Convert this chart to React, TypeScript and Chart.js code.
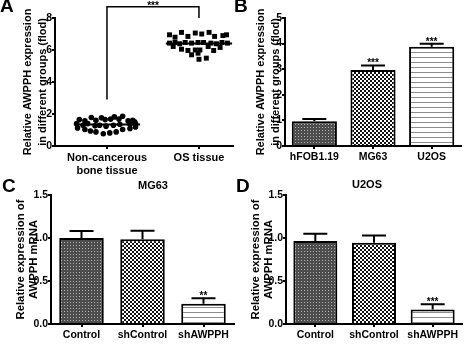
import React, { useEffect, useRef } from "react";
import { Chart, registerables } from "chart.js";
Chart.register(...registerables);

const FONT = "'Liberation Sans', Arial, Helvetica, sans-serif";

// ---------- Panel A data ----------
const aCategories: (string | string[])[] = [["Non-cancerous", "bone tissue"], "OS tissue"];
const aNormalJitter = [-0.3, -0.24, -0.17, -0.12, -0.06, -0.02, 0.04, 0.08, 0.13, 0.17, 0.23, 0.28, 0.31,
  -0.33, -0.26, -0.21, -0.13, -0.08, -0.01, 0.07, 0.14, 0.25, 0.3,
  -0.32, -0.24, -0.18, -0.12, -0.04, 0.03, 0.1, 0.17, 0.25, 0.31];
const aNormalValues = [1.65, 1.57, 1.78, 1.61, 1.76, 1.65, 1.68, 1.82, 1.68, 1.86, 1.57, 1.61, 1.4,
  1.4, 1.3, 1.4, 1.26, 1.3, 1.24, 1.3, 1.36, 1.36, 1.51,
  1.13, 1.03, 0.94, 0.88, 0.77, 0.82, 0.88, 1.03, 1.09, 1.19];
const aOSJitter = [-0.32, -0.26, -0.19, -0.12, -0.04, 0.03, 0.11, 0.17, 0.26, 0.3,
  -0.32, -0.26, -0.21, -0.15, -0.08, -0.01, 0.05, 0.13, 0.19, 0.25, 0.31,
  -0.28, -0.19, -0.12, -0.04, 0.01, 0.1, 0.16, 0.23, -0.08, -0.01, 0.0, 0.08];
const aOSValues = [6.95, 6.8, 7.1, 6.85, 7.06, 7.0, 7.1, 6.85, 6.9, 6.95,
  6.43, 6.47, 6.39, 6.47, 6.43, 6.47, 6.47, 6.43, 6.39, 6.47, 6.43,
  6.22, 6.05, 5.97, 6.0, 6.0, 6.22, 5.97, 6.16, 5.7, 5.8, 5.42, 5.49];
const aMeans = [1.34, 6.4];
const aYTicks = [0, 2, 4, 6, 8];
const aBracket = { leftFrom: 2.9, rightFrom: 8.0, top: 8.7, label: "***" };
const MEAN_HALF = 0.36;

// ---------- Panel B data ----------
const bCategories = ["hFOB1.19", "MG63", "U2OS"];
const bMeans = [0.97, 2.97, 3.88];
const bErrors = [0.08, 0.17, 0.11];
const bStars = ["", "***", "***"];
const bYTicks = [0, 1, 2, 3, 4, 5];

// ---------- Panel C / D data ----------
const cdCategories = ["Control", "shControl", "shAWPPH"];
const cMeans = [1.0, 0.985, 0.235];
const cErrors = [0.08, 0.1, 0.065];
const cStars = ["", "", "**"];
const dMeans = [0.965, 0.945, 0.17];
const dErrors = [0.085, 0.085, 0.06];
const dStars = ["", "", "***"];
const cdYTicks = [0, 0.5, 1.0, 1.5];

const titleAB = ["Relative AWPPH expression", "in different groups (flod)"];
const titleCD = ["Relative expression of", "AWPPH mRNA"];

function makePattern(kind: number): CanvasPattern {
  const c = document.createElement("canvas");
  const g = c.getContext("2d")!;
  if (kind === 0) {
    c.width = 3; c.height = 3;
    g.fillStyle = "#4d4d4d"; g.fillRect(0, 0, 3, 3);
    g.fillStyle = "#b0b0b0"; g.fillRect(1, 1, 1, 1);
  } else if (kind === 1) {
    c.width = 4; c.height = 4;
    g.fillStyle = "#fff"; g.fillRect(0, 0, 4, 4);
    g.fillStyle = "#111"; g.fillRect(0, 0, 2, 2); g.fillRect(2, 2, 2, 2);
  } else {
    c.width = 5; c.height = 5;
    g.fillStyle = "#fff"; g.fillRect(0, 0, 5, 5);
    g.fillStyle = "#8c8c8c"; g.fillRect(0, 2, 5, 1);
  }
  return g.createPattern(c, "repeat")!;
}

type Area = { l: number; r: number; t: number; b: number };

function axisBase(w: number, h: number, area: Area) {
  return {
    layout: { padding: { left: 0, top: area.t, right: w - area.r, bottom: 0 } },
    yFit: (s: any) => { s.width = area.l; },
    xFit: (s: any) => { s.height = h - area.b; },
  };
}

const tickGrid = { display: true, drawOnChartArea: false, drawTicks: true, tickLength: 3, color: "#000", lineWidth: 2, offset: false };
const border = { display: true, color: "#000", width: 2 };

function decorPlugin(opts: {
  letter: string; letterX: number; letterY: number;
  sub?: string; subX?: number; subY?: number;
  means?: number[]; errors?: number[]; stars?: string[]; starSize?: number;
  bracket?: boolean;
}) {
  return {
    id: "decor",
    afterDraw(chart: any) {
      const ctx = chart.ctx as CanvasRenderingContext2D;
      const x = chart.scales.x, y = chart.scales.y;
      ctx.save();
      ctx.fillStyle = "#000";
      ctx.strokeStyle = "#000";
      ctx.textAlign = "left";
      ctx.textBaseline = "alphabetic";
      ctx.font = `bold 19px ${FONT}`;
      ctx.fillText(opts.letter, opts.letterX, opts.letterY);
      if (opts.sub) {
        ctx.font = `bold 11px ${FONT}`;
        ctx.textAlign = "center";
        ctx.fillText(opts.sub, opts.subX!, opts.subY!);
      }
      if (opts.means && opts.errors) {
        ctx.lineWidth = 2;
        opts.means.forEach((m, i) => {
          const px = x.getPixelForValue(i);
          const yb = y.getPixelForValue(m);
          const yt = y.getPixelForValue(m + opts.errors![i]);
          ctx.beginPath();
          ctx.moveTo(px, yb); ctx.lineTo(px, yt);
          ctx.moveTo(px - 12, yt); ctx.lineTo(px + 12, yt);
          ctx.stroke();
          const s = opts.stars ? opts.stars[i] : "";
          if (s) {
            const fs = opts.starSize || 10;
            ctx.font = `bold ${fs}px ${FONT}`;
            ctx.textAlign = "center";
            ctx.fillText(s, px, yt - 5 + 0.58 * fs);
          }
        });
      }
      if (opts.bracket) {
        const x0 = x.getPixelForValue(0), x1 = x.getPixelForValue(1);
        const yt = y.getPixelForValue(aBracket.top);
        ctx.lineWidth = 1.5;
        ctx.beginPath();
        ctx.moveTo(x0, y.getPixelForValue(aBracket.leftFrom));
        ctx.lineTo(x0, yt); ctx.lineTo(x1, yt);
        ctx.lineTo(x1, y.getPixelForValue(aBracket.rightFrom));
        ctx.stroke();
        ctx.font = `bold 10px ${FONT}`;
        ctx.textAlign = "center";
        ctx.fillText(aBracket.label, (x0 + x1) / 2, yt - 4 + 5.8);
      }
      ctx.restore();
    },
  };
}

function buildA(canvas: HTMLCanvasElement) {
  const w = 237, h = 175;
  const area = { l: 55, r: 233, t: 18, b: 146 };
  const base = axisBase(w, h, area);
  return new Chart(canvas, {
    type: "scatter",
    data: {
      datasets: [
        { data: aNormalValues.map((v, i) => ({ x: 0 + aNormalJitter[i], y: v })), pointStyle: "circle", pointRadius: 2.8, backgroundColor: "#000", borderColor: "#000", borderWidth: 0 },
        { data: aOSValues.map((v, i) => ({ x: 1 + aOSJitter[i], y: v })), pointStyle: "rect", pointRadius: 3.5, backgroundColor: "#000", borderColor: "#000", borderWidth: 0 },
        { data: [{ x: -MEAN_HALF, y: aMeans[0] }, { x: MEAN_HALF, y: aMeans[0] }], showLine: true, borderColor: "#000", borderWidth: 2, pointRadius: 0 },
        { data: [{ x: 1 - MEAN_HALF, y: aMeans[1] }, { x: 1 + MEAN_HALF, y: aMeans[1] }], showLine: true, borderColor: "#000", borderWidth: 2, pointRadius: 0 },
      ] as any,
    },
    options: {
      responsive: false, animation: false,
      layout: base.layout,
      plugins: { legend: { display: false }, tooltip: { enabled: false } },
      scales: {
        x: {
          type: "linear", min: -0.565, max: 1.37,
          afterBuildTicks: (s: any) => { s.ticks = aCategories.map((_, i) => ({ value: i })); },
          afterFit: base.xFit,
          grid: tickGrid, border,
          ticks: { color: "#000", padding: 2, font: { family: FONT, size: 11, weight: "bold", lineHeight: 1.2 }, maxRotation: 0, callback: (_v: any, i: number) => aCategories[i] as any },
        },
        y: {
          min: 0, max: 8,
          afterBuildTicks: (s: any) => { s.ticks = aYTicks.map((v) => ({ value: v })); },
          afterFit: base.yFit,
          grid: tickGrid, border,
          ticks: { color: "#000", padding: 0, font: { family: FONT, size: 10.5, weight: "bold" } },
          title: { display: true, text: titleAB, color: "#000", font: { family: FONT, size: 11, weight: "bold", lineHeight: 1.35 }, padding: { top: 20.5, bottom: 0 } },
        },
      },
    } as any,
    plugins: [decorPlugin({ letter: "A", letterX: 0, letterY: 12, bracket: true })],
  });
}

function buildBar(canvas: HTMLCanvasElement, w: number, h: number, area: Area, cats: string[], means: number[], errors: number[], stars: string[], yMax: number, yTicks: number[], fmt: (v: number) => string, title: string[], titleCfg: { pad: number; lh: number; size: number }, barPct: number, decor: any) {
  const base = axisBase(w, h, area);
  const patterns = [makePattern(0), makePattern(1), makePattern(2)];
  return new Chart(canvas, {
    type: "bar",
    data: {
      labels: cats,
      datasets: [{ data: means, backgroundColor: patterns as any, borderColor: "#000", borderWidth: 2, borderSkipped: "bottom", categoryPercentage: 1, barPercentage: barPct }],
    },
    options: {
      responsive: false, animation: false,
      layout: base.layout,
      plugins: { legend: { display: false }, tooltip: { enabled: false } },
      scales: {
        x: {
          afterFit: base.xFit,
          grid: tickGrid, border,
          ticks: { color: "#000", padding: 2, font: { family: FONT, size: 10.5, weight: "bold" }, maxRotation: 0, autoSkip: false },
        },
        y: {
          min: 0, max: yMax,
          afterBuildTicks: (s: any) => { s.ticks = yTicks.map((v) => ({ value: v })); },
          afterFit: base.yFit,
          grid: tickGrid, border,
          ticks: { color: "#000", padding: 0, font: { family: FONT, size: 10.5, weight: "bold" }, callback: (v: any) => fmt(Number(v)) },
          title: { display: true, text: title, color: "#000", font: { family: FONT, size: titleCfg.size, weight: "bold", lineHeight: titleCfg.lh }, padding: { top: titleCfg.pad, bottom: 0 } },
        },
      },
    } as any,
    plugins: [decorPlugin({ ...decor, means, errors, stars })],
  });
}

export default function App() {
  const refA = useRef<HTMLCanvasElement>(null);
  const refB = useRef<HTMLCanvasElement>(null);
  const refC = useRef<HTMLCanvasElement>(null);
  const refD = useRef<HTMLCanvasElement>(null);

  useEffect(() => {
    document.body.style.margin = "0";
    document.body.style.background = "#fff";
    const charts: Chart[] = [];
    charts.push(buildA(refA.current!));
    charts.push(buildBar(refB.current!, 240, 175, { l: 51, r: 227, t: 18, b: 146 }, bCategories, bMeans, bErrors, bStars, 5, bYTicks, (v) => String(v), titleAB, { pad: 20, lh: 1.35, size: 11 }, 0.77, { letter: "B", letterX: 0, letterY: 12, starSize: 10 }));
    charts.push(buildBar(refC.current!, 237, 180, { l: 51, r: 234, t: 20, b: 149 }, cdCategories, cMeans, cErrors, cStars, 1.5, cdYTicks, (v) => v.toFixed(1), titleCD, { pad: 15, lh: 1.09, size: 11.3 }, 0.73, { letter: "C", letterX: 2, letterY: 17, sub: "MG63", subX: 153, subY: 14, starSize: 10 }));
    charts.push(buildBar(refD.current!, 240, 180, { l: 52, r: 228, t: 20, b: 149 }, cdCategories, dMeans, dErrors, dStars, 1.5, cdYTicks, (v) => v.toFixed(1), titleCD, { pad: 15.5, lh: 1.15, size: 11.3 }, 0.75, { letter: "D", letterX: 2, letterY: 17, sub: "U2OS", subX: 133, subY: 13, starSize: 10 }));
    return () => charts.forEach((c) => c.destroy());
  }, []);

  const pos = (left: number, top: number): React.CSSProperties => ({ position: "absolute", left, top, display: "block" });
  return (
    <div style={{ position: "relative", width: 474, height: 355, background: "#fff", overflow: "hidden" }}>
      <canvas ref={refA} width={237} height={175} style={pos(0, 0)} />
      <canvas ref={refB} width={240} height={175} style={pos(234, 0)} />
      <canvas ref={refC} width={237} height={180} style={pos(0, 175)} />
      <canvas ref={refD} width={240} height={180} style={pos(234, 175)} />
    </div>
  );
}
